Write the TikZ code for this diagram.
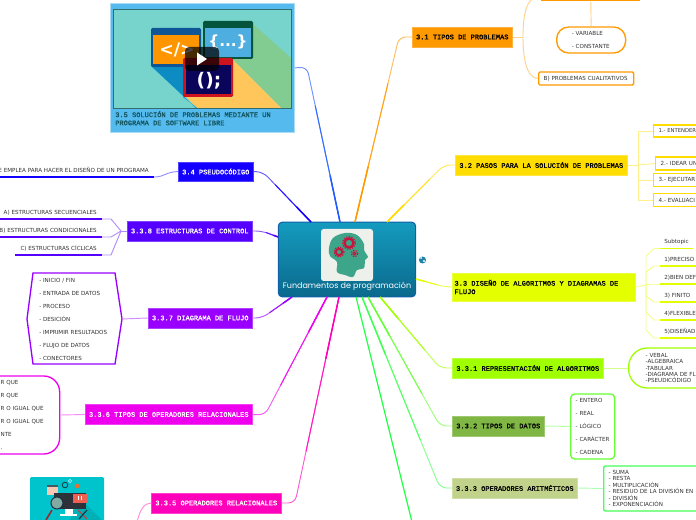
\documentclass[tikz,border=0pt]{standalone}
\usepackage{fontspec}
\usetikzlibrary{calc}
\setmainfont{DejaVu Sans}
\newfontfamily\branchfont[FakeBold=1.2]{Liberation Mono}
\newfontfamily\rootfont{Poppins}
\newcommand{\branchtype}{\branchfont\fontsize{5.25}{6.3}\selectfont}
\newcommand{\wsp}{\hspace*{3.15pt}}
\definecolor{c35}{HTML}{1F5BFF}\definecolor{c34}{HTML}{1400FF}\definecolor{c338}{HTML}{5500FF}
\definecolor{c337}{HTML}{9900FF}\definecolor{c336}{HTML}{EE00EE}\definecolor{c335}{HTML}{FF00BB}
\definecolor{c31}{HTML}{FF9900}\definecolor{c32}{HTML}{FFDD00}\definecolor{c33}{HTML}{E4FF00}
\definecolor{c331}{HTML}{A0FF00}\definecolor{c332}{HTML}{7FB644}\definecolor{c333}{HTML}{C1D38B}
\definecolor{g332}{HTML}{66FF33}\definecolor{g333}{HTML}{44FF55}\definecolor{g334}{HTML}{22FF44}
\definecolor{inktxt}{HTML}{333333}
\tikzset{
 branch/.style n args={3}{rectangle,anchor=west,fill=#3,draw=#3!75,line width=.4pt,inner xsep=0pt,inner ysep=0pt,
   minimum height=#2*0.75pt,minimum width=#1*0.75pt,align=left,text=black,font=\branchtype},
 leaf/.style n args={4}{rectangle,anchor=west,fill=white,draw=#3,line width=1pt,inner xsep=#4*0.75pt,inner ysep=0pt,
   minimum height=#2*0.75pt,text width=#1*0.75pt-#4*1.5pt,align=left,text=inktxt},
 small/.style={font=\fontsize{4.2}{9.75}\selectfont},
 tight/.style={font=\fontsize{4.2}{4.85}\selectfont},
 plain/.style={inner sep=0pt,anchor=base west,text=inktxt,font=\fontsize{4.2}{4.85}\selectfont},
 pale/.style={draw=#1!45,line width=.7pt,line join=round},
 rule/.style={draw=#1,line width=.9pt},
 hub/.style={line width=.7pt,rounded corners=5pt},
}
\newcommand{\hubline}[5]{% start, elbow, end, colour, colour near the hub
 \draw[hub,draw=#4!65] (#1) -- (#2) -- (#3);
 \draw[draw=#5!90!white,line width=.75pt] ($(#2)!0.25!(#3)$) -- (#3);
 \draw[draw=#5,line width=1.1pt] ($(#2)!0.7!(#3)$) -- (#3);
}
\begin{document}
\begin{tikzpicture}[x=0.75pt,y=-0.75pt]
\useasboundingbox (0,0) rectangle (696,520);
\fill[white] (0,0) rectangle (696,520);

% ---------- root
\node (root) [rectangle,rounded corners=3pt,top color={rgb,255:red,20;green,155;blue,190},bottom color={rgb,255:red,10;green,105;blue,140},
  draw={rgb,255:red,16;green,96;blue,168},line width=.8pt,minimum width=103pt,minimum height=56pt] at (347,259.5) {};
\fill[fill={rgb,255:red,238;green,240;blue,236},rounded corners=2pt] (321,229) rectangle (373,281);
\fill[fill={rgb,255:red,61;green,165;blue,138}] plot[smooth cycle,tension=.6] coordinates
 {(329,248)(333,238)(345,233)(357,235)(364,244)(364,250)(368,257)(365,260)(364,268)(357,270)(353,277)(345,275)(337,272)(337,262)(330,256)};
\foreach \cx/\cy/\ra/\wd in {349/243/4.5/1.8,339/252/3.2/1.4,354.5/253.5/1.4/.7}{
  \draw[draw={rgb,255:red,200;green,20;blue,60},line width=\wd pt] (\cx,\cy) circle (\ra);
  \draw[draw={rgb,255:red,200;green,20;blue,60},line width=.9pt,dash pattern=on 1pt off 1pt] (\cx,\cy) circle (\ra+1.8);
}
\node (rootlabel) [text=white,inner sep=0pt,font=\rootfont\fontsize{6}{8}\selectfont] at (347,286.5) {Fundamentos de programación};
% small globe beside the root
\fill[fill={rgb,255:red,30;green,130;blue,165}] (422.5,260) circle (3.5);
\fill[white] (421,258) circle (1);\fill[white] (424,261) circle (1.1);

% ---------- picture 3.5
\node (img) [rectangle,anchor=north west,inner sep=0pt,minimum width=138pt,minimum height=96.75pt,
  fill={rgb,255:red,85;green,187;blue,238},draw={rgb,255:red,170;green,220;blue,245},line width=.6pt] at (110,3) {};
\fill[fill={rgb,255:red,119;green,212;blue,204}] (113,9) rectangle (291,108);
\fill[fill={rgb,255:red,130;green,204;blue,146}] (253,24)--(291,58)--(291,108)--(281,108)--(233,60)--(233,58)--(253,58)--cycle;
\fill[fill={rgb,255:red,255;green,198;blue,92}] (233,60)--(281,108)--(197,108)--(186,97)--(233,97)--cycle;
\fill[fill={rgb,255:red,13;green,140;blue,196}] (151,66)--(196,108)--(197,108)--(183,97)--(183,66)--cycle;
\draw[draw={rgb,255:red,50;green,110;blue,110},line width=.5pt] (113,9) rectangle (291,108);
\fill[fill={rgb,255:red,16;green,86;blue,150},rounded corners=1pt] (151,28) rectangle (201,67);
\fill[fill={rgb,255:red,255;green,150;blue,0}] (153,35) rectangle (199,64);
\node[text=white,inner sep=0pt,font=\bfseries\fontsize{13}{13}\selectfont] at (177,50) {</>};
\fill[fill={rgb,255:red,5;green,85;blue,60},rounded corners=1pt] (203,21) rectangle (253,59);
\fill[fill={rgb,255:red,79;green,174;blue,224}] (205,28) rectangle (251,57);
\node[text=white,inner sep=0pt,font=\bfseries\fontsize{11.5}{12}\selectfont] at (228,42) {\{...\}};
\fill[fill={rgb,255:red,205;green,20;blue,30},rounded corners=1pt] (183,58) rectangle (233,97);
\fill[fill={rgb,255:red,10;green,5;blue,90}] (186,65) rectangle (231,94);
\node[text=white,inner sep=0pt,font=\bfseries\fontsize{14}{14}\selectfont] at (209,81) {();};
\fill[fill=black,fill opacity=.72,rounded corners=3pt] (185,47) rectangle (219,71);
\fill[white] (197,52.5)--(207,59)--(197,65.5)--cycle;
\node (cap35) [anchor=north west,inner sep=0pt,align=left,text={rgb,255:red,20;green,85;blue,95},
  font=\branchfont\fontsize{5.25}{6.1}\selectfont] at (115,111) {3.5 SOLUCIÓN DE PROBLEMAS MEDIANTE UN\\PROGRAMA DE SOFTWARE LIBRE};

% ---------- picture beside 3.3.5
\fill[fill={rgb,255:red,0;green,196;blue,204},rounded corners=1pt] (30,477) rectangle (104,525);
\fill[fill=black,fill opacity=.1] (87,505)--(102,520)--(70,520)--(74,510)--cycle;
\fill[fill={rgb,255:red,245;green,200;blue,180}] (47,485) rectangle (58,495);
\fill[fill={rgb,255:red,70;green,90;blue,100}] (47,485) rectangle (58,487);
\fill[fill={rgb,255:red,45;green,50;blue,58}] (54,493) rectangle (86,509);
\fill[white] (65,509) rectangle (73,514);\fill[white] (60,514) rectangle (77,515.5);
\fill[fill={rgb,255:red,240;green,95;blue,80}] (73,494) rectangle (87,503);
\fill[white] (78,496) rectangle (79,500);\fill[white] (81,496) rectangle (82,500);
\draw[draw={rgb,255:red,20;green,60;blue,70},line width=.6pt] (65,485) circle (2.8);
\draw[draw=white,line width=.3pt] (70,481) circle (1.6);
\fill[fill={rgb,255:red,240;green,110;blue,40}] (77,486) circle (2.3);
\draw[draw={rgb,255:red,150;green,40;blue,50},line width=1.2pt] (52,510)--(46,520);
\filldraw[fill={rgb,255:red,130;green,170;blue,160},draw={rgb,255:red,25;green,50;blue,65},line width=.8pt] (57,503) circle (6);
\draw[draw={rgb,255:red,190;green,70;blue,70},line width=.9pt] (78,510)--(87,519);
\draw[draw={rgb,255:red,30;green,55;blue,70},line width=.9pt] (87,510)--(79,519);

% ---------- branch nodes
\node (n34) [branch={75}{19}{c34},text=white] at (178,171.5) {3.4 PSEUDOCÓDIGO};
\node (n338) [branch={125}{20}{c338},text=white] at (127,231) {3.3.8 ESTRUCTURAS DE CONTROL};
\node (n337) [branch={104}{20}{c337},text=white] at (148,318) {3.3.7 DIAGRAMA DE FLUJO};
\node (n336) [branch={167}{20}{c336},text=white] at (85,414.5) {3.3.6 TIPOS DE OPERADORES RELACIONALES};
\node (n335) [branch={130}{20}{c335},text=white] at (151,503) {3.3.5 OPERADORES RELACIONALES};
\node (n31) [branch={100}{20}{c31}] at (412,37) {3.1 TIPOS DE PROBLEMAS};
\node (n32) [branch={172}{20}{c32}] at (455,165) {3.2 PASOS PARA LA SOLUCIÓN DE PROBLEMAS};
\node (n33) [branch={183}{28}{c33}] at (452,287) {3.3 DISEÑO DE ALGORITMOS Y DIAGRAMAS DE\hspace*{11pt}\\FLUJO};
\node (n331) [branch={151}{20}{c331}] at (452,368) {3.3.1 REPRESENTACIÓN DE ALGORITMOS};
\node (n332) [branch={92}{20}{c332}] at (452,426) {3.3.2 TIPOS DE DATOS};
\node (n333) [branch={125}{20}{c333}] at (452,488) {3.3.3 OPERADORES ARITMÉTICOS};

% ---------- hub connectors
\coordinate (h35) at (340,222);\coordinate (h34) at (311,222);\coordinate (h338) at (278,237);
\coordinate (h337) at (292,297);\coordinate (h336) at (327,297);\coordinate (h335) at (339,297);
\coordinate (h31) at (355,222);\coordinate (h32) at (387,222);\coordinate (h33) at (416,279);
\coordinate (h331) at (380,297);\coordinate (h332) at (368,297);\coordinate (h333) at (362,297);
\coordinate (h334) at (356,297);\coordinate (off334) at (412,522);
\hubline{img.east}{307,67}{h35}{c35}{c35}
\hubline{n34.east}{263,172}{h34}{c34}{c34}
\hubline{n338.east}{262,231}{h338}{c338}{c338}
\hubline{n337.east}{262,318}{h337}{c337}{c337}
\hubline{n336.east}{265,415}{h336}{c336}{c336}
\hubline{n335.east}{295,503}{h335}{c335}{c335}
\hubline{n31.west}{399,37}{h31}{c31}{c31}
\hubline{n32.west}{444,165}{h32}{c32}{c32}
\hubline{n33.west}{445,287}{h33}{c33}{c33}
\hubline{n331.west}{440,368}{h331}{c331}{c331}
\hubline{n332.west}{440,426}{h332}{g332}{g332}
\hubline{n333.west}{440,488}{h333}{g333}{g333}
\draw[draw=g334,line width=.9pt] (h334) -- (off334);

% ---------- 3.1 leaves
\node (top31) [rectangle,anchor=north west,fill=c31,inner sep=0pt,minimum width=74.25pt,minimum height=9pt] at (541,-11) {};
\node (var) [leaf={69}{26}{c31}{12.5},small,rounded corners=9pt] at (556,40) {\hspace*{2pt}- VARIABLE\\\hspace*{2pt}- CONSTANTE};
\node (cual) [leaf={95}{13}{c31}{5},tight,rounded corners=1pt] at (538,78.5) {B) PROBLEMAS CUALITATIVOS};
\coordinate (b31) at (523,37);
\draw[pale=c31] (n31.east) -- (b31);
\draw[pale=c31] (top31.west) .. controls (526,-4) and (523,15) .. (b31) .. controls (523,60) and (527,78) .. (cual.west);
\draw[pale=c31] (top31.south) -- (var.north);

% ---------- 3.2 leaves
\node (p1) [leaf={60}{12}{c32}{5},font=\fontsize{3.95}{4.85}\selectfont] at (653,131) {1.- ENTENDER};
\node (p2) [leaf={60}{13}{c32}{5},tight] at (655,163.5) {2.- IDEAR UN};
\node (p3) [leaf={60}{13}{c32}{5},tight] at (653,180) {3.- EJECUTAR};
\node (p4) [leaf={60}{13}{c32}{5},tight] at (653,200) {4.- EVALUACI};
\coordinate (b32) at (638,165);
\draw[pale=c32] (n32.east) -- (b32);
\draw[pale=c32] (b32) |- (p1.west);
\draw[pale=c32] (b32) |- (p4.west);
\draw[pale=c32] (b32) -- (p2.west);
\draw[pale=c32] (b32) |- (p3.west);

% ---------- 3.3 sub-topics
\coordinate (b33) at (646,285);
\draw[pale=c33] (n33.east) -- (b33);
\foreach \nm/\ya/\yb/\xe/\xt/\txt in {
  s1/248.5/256/693/664/Subtopic,
  s2/266/272/700/664/1)PRECISO,
  s3/284/284/700/664/2)BIEN DEF,
  s4/302/296/700/664/3) FINITO,
  s5/320/312/700/664/4)FLEXIBLE,
  s6/338/330/700/664/5)DISEÑAD}{
  \coordinate (\nm a) at (660,\ya);\coordinate (\nm b) at (\xe,\ya);
  \node (\nm) [plain] at (\xt,\ya-4.5) {\txt};
  \draw[rule=c33] (\nm a) -- (\nm b);
  \draw[pale=c33] (\nm a) -- (654,\ya) -- (646,\yb) -- (b33);
}

% ---------- 3.3.1, 3.3.2, 3.3.3 leaves
\node (rep) [leaf={120}{40}{c331}{17},tight,rounded corners=14pt,text width=80pt] at (628,368) {- VEBAL\\-ALGEBRAICA\\-TABULAR\\-DIAGRAMA DE FL\\-PSEUDICÓDIGO};
\draw[pale=c331] (n331.east) -- (rep.west);
\node (dat) [leaf={44}{65}{g332}{5},small,rounded corners=3pt] at (570,426.5) {- ENTERO\\- REAL\\- LÓGICO\\- CARÁCTER\\- CADENA};
\draw[pale=g332] (n332.east) -- (dat.west);
\node (ari) [leaf={130}{45}{g333}{5},tight,rounded corners=1.5pt] at (603,488.5) {- SUMA\\- RESTA\\- MULTIPLICACIÓN\\- RESIDUO DE LA DIVISIÓN EN\\- DIVISIÓN\\- EXPONENCIACIÓN};
\draw[pale=g333] (n333.east) -- (ari.west);

% ---------- 3.3.5 towards the picture below
\coordinate (off335) at (137,522);
\draw[pale=c335] (n335.west) .. controls (144,503) and (140,510) .. (off335);

% ---------- 3.3.6
\node (rel) [leaf={99}{78}{c336}{5},small,rounded corners=12pt] at (-40,415) {\hspace*{26.2pt}R QUE\\\hspace*{26.2pt}R QUE\\\hspace*{26.2pt}R O IGUAL QUE\\\hspace*{26.2pt}R O IGUAL QUE\\\hspace*{26.2pt}NTE\\\hspace*{26.2pt}.};
\draw[pale=c336] (n336.west) -- (rel.east);

% ---------- 3.3.7
\coordinate (hexR) at (122,319);
\filldraw[fill=white,draw=c337,line width=1pt,line join=miter] (33,273)--(115,273)--(hexR)--(115,364)--(33,364)--(27,319)--cycle;
\node (flu) [plain,anchor=west,align=left,font=\fontsize{4.2}{9.75}\selectfont] at (39,319) {- INICIO / FIN\\- ENTRADA DE DATOS\\- PROCESO\\- DESICIÓN\\- IMPRIMIR RESULTADOS\\- FLUJO DE DATOS\\- CONECTORES};
\draw[pale=c337] (n337.west) -- (hexR);

% ---------- 3.3.8
\coordinate (b338) at (121,231);
\foreach \nm/\yy/\xa/\txt in {e1/219/-5/A) ESTRUCTURAS SECUENCIALES,e2/237/-5/B) ESTRUCTURAS CONDICIONALES,e3/255/15/C) ESTRUCTURAS CÍCLICAS}{
  \coordinate (\nm a) at (\xa,\yy);\coordinate (\nm b) at (102,\yy);
  \node (\nm) [plain,anchor=base east] at (97,\yy-4.5) {\txt};
  \draw[rule=c338] (\nm a) -- (\nm b);
}
\draw[pale=c338] (n338.west) -- (b338);
\draw[pale=c338] (e1b) -- (111,219) -- (b338);
\draw[pale=c338] (e2b) -- (111,237) -- (b338);
\draw[pale=c338] (e3b) -- (111,255) -- (b338);

% ---------- 3.4
\coordinate (u34a) at (-5,177);\coordinate (u34b) at (154,177);
\node (t34) [plain,anchor=base east] at (149,173) {E EMPLEA PARA HACER EL DISEÑO DE UN PROGRAMA};
\draw[rule=c34] (u34a) -- (u34b);
\draw[pale=c34] (u34b) .. controls (165,177) and (165,172) .. (n34.west);
\end{tikzpicture}
\end{document}
